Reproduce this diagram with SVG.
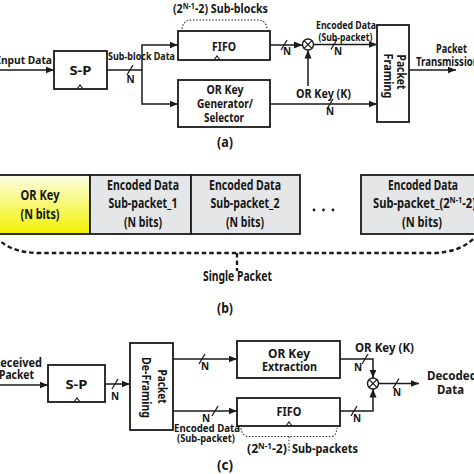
<svg xmlns="http://www.w3.org/2000/svg" width="474" height="474" viewBox="0 0 474 474">
<defs>
<marker id="ah" markerUnits="userSpaceOnUse" markerWidth="9" markerHeight="8" refX="8.5" refY="4" orient="auto"><path d="M0,0.5 L8.5,4 L0,7.5 z" fill="#1a1a1a"/></marker>
<linearGradient id="yel" x1="0" y1="0" x2="0" y2="1"><stop offset="0" stop-color="#fdfde6"/><stop offset="1" stop-color="#f2f200"/></linearGradient>
<style>
.t{font-family:"Noto Sans","DejaVu Sans",sans-serif;font-weight:700;fill:#161616}
.s11{font-size:11px}.s12{font-size:12px}.s13{font-size:13.5px}.sn{font-size:10px}
.m{text-anchor:middle}
.box{fill:#fff;stroke:#1a1a1a;stroke-width:1.8}
.pk{stroke:#1a1a1a;stroke-width:1.8}
.ln{fill:none;stroke:#1a1a1a;stroke-width:1.5}
.ar{fill:none;stroke:#1a1a1a;stroke-width:1.5;marker-end:url(#ah)}
.sl{stroke:#1a1a1a;stroke-width:1.3}
.dot{fill:none;stroke:#333;stroke-width:1.1;stroke-dasharray:1.6 1.6}
.dsh{fill:none;stroke:#1a1a1a;stroke-width:2.4;stroke-dasharray:4.5 3}
.clk{fill:none;stroke:#1a1a1a;stroke-width:1.1}
</style>
</defs>
<rect width="474" height="474" fill="#fff"/>

<!-- ===== (a) ===== -->
<g id="a-sp"><rect class="box" x="54" y="51" width="53" height="38"/><text class="t s12 m" x="80.5" y="75" textLength="22" lengthAdjust="spacingAndGlyphs">S-P</text><polyline class="clk" points="77,89 80,85 83,89"/></g>
<g id="a-fifo"><rect class="box" x="178" y="31" width="92" height="29"/><text class="t s12 m" x="224" y="50.5" textLength="24" lengthAdjust="spacingAndGlyphs">FIFO</text><polyline class="clk" points="214,60 217,56 220,60"/>
<path class="dot" d="M182,29 Q183,20 192,20 L258,20 Q266,20 267,29"/>
<text class="t s12" x="173" y="13" textLength="95" lengthAdjust="spacingAndGlyphs">(2<tspan font-size="8" dy="-4">N-1</tspan><tspan dy="4">-2) Sub-blocks</tspan></text></g>
<g id="a-keygen"><rect class="box" x="178" y="80" width="92" height="47"/><text class="t s12 m" x="225" y="94" textLength="37" lengthAdjust="spacingAndGlyphs">OR Key</text><text class="t s12 m" x="225" y="108" textLength="56" lengthAdjust="spacingAndGlyphs">Generator/</text><text class="t s12 m" x="224" y="122" textLength="40" lengthAdjust="spacingAndGlyphs">Selector</text></g>
<g id="a-xor"><circle cx="308" cy="44.5" r="5.5" fill="#fff" stroke="#1a1a1a" stroke-width="1.4"/><path class="sl" d="M304.1,40.6 L311.9,48.4 M311.9,40.6 L304.1,48.4"/></g>
<g id="a-framing"><rect class="box" x="377" y="25" width="32" height="97"/><g transform="translate(393,74) rotate(90)"><text class="t s12 m" x="-2" y="-3.5" textLength="35" lengthAdjust="spacingAndGlyphs">Packet</text><text class="t s12 m" x="2" y="9" textLength="45" lengthAdjust="spacingAndGlyphs">Framing</text></g></g>

<g id="a-connectors">
<line class="ar" x1="0" y1="70" x2="54" y2="70"/>
<polyline class="ln" points="107,70 142,70"/>
<polyline class="ar" points="142,70 142,45 178,45"/>
<polyline class="ar" points="142,70 142,104 178,104"/>
<line class="ar" x1="270" y1="45" x2="302.5" y2="45"/>
<line class="ar" x1="313.5" y1="44.5" x2="377" y2="44.5"/>
<line class="ar" x1="308" y1="86" x2="308" y2="50"/>
<line class="ar" x1="270" y1="104" x2="377" y2="104"/>
<line class="ar" x1="409" y1="70" x2="456" y2="70"/>
<line class="sl" x1="127" y1="75" x2="133" y2="65"/>
<line class="sl" x1="281" y1="50" x2="287" y2="40"/>
<line class="sl" x1="331" y1="49.5" x2="337" y2="39.5"/>
<line class="sl" x1="327" y1="109" x2="333" y2="99"/>
</g>
<g id="a-labels">
<text class="t s11" x="-3" y="63.5" textLength="55" lengthAdjust="spacingAndGlyphs">Input Data</text>
<text class="t s11" x="108" y="60" textLength="67" lengthAdjust="spacingAndGlyphs">Sub-block Data</text>
<text class="t sn m" x="130.5" y="82.5">N</text>
<text class="t sn m" x="287" y="55">N</text>
<text class="t sn m" x="338" y="55">N</text>
<text class="t sn m" x="330" y="115">N</text>
<text class="t s11" x="316" y="29" textLength="60" lengthAdjust="spacingAndGlyphs">Encoded Data</text>
<text class="t s11" x="318.5" y="40.5" textLength="54" lengthAdjust="spacingAndGlyphs">(Sub-packet)</text>
<text class="t s12" x="296" y="97.5" textLength="55" lengthAdjust="spacingAndGlyphs">OR Key (K)</text>
<text class="t s12" x="436" y="52.5" textLength="31" lengthAdjust="spacingAndGlyphs">Packet</text>
<text class="t s12" x="416" y="66" textLength="63" lengthAdjust="spacingAndGlyphs">Transmission</text>
<text class="t s13 m" x="225" y="147" textLength="16" lengthAdjust="spacingAndGlyphs">(a)</text>
</g>

<!-- ===== (b) ===== -->
<g id="b-orkey"><rect x="-10" y="175" width="100" height="59" fill="url(#yel)" class="pk"/><text class="t s13 m" x="40" y="200" textLength="39" lengthAdjust="spacingAndGlyphs">OR Key</text><text class="t s13 m" x="40" y="218.5" textLength="39" lengthAdjust="spacingAndGlyphs">(N bits)</text></g>
<g id="b-sub1"><rect x="90" y="175" width="101" height="59" fill="#e4e6e8" class="pk"/><text class="t s13 m" x="143" y="190" textLength="72" lengthAdjust="spacingAndGlyphs">Encoded Data</text><text class="t s13 m" x="143" y="208" textLength="69" lengthAdjust="spacingAndGlyphs">Sub-packet_1</text><text class="t s13 m" x="143" y="226.5" textLength="38" lengthAdjust="spacingAndGlyphs">(N bits)</text></g>
<g id="b-sub2"><rect x="191" y="175" width="109" height="59" fill="#e4e6e8" class="pk"/><text class="t s13 m" x="245" y="190" textLength="72" lengthAdjust="spacingAndGlyphs">Encoded Data</text><text class="t s13 m" x="245" y="208" textLength="69" lengthAdjust="spacingAndGlyphs">Sub-packet_2</text><text class="t s13 m" x="245" y="226.5" textLength="38" lengthAdjust="spacingAndGlyphs">(N bits)</text></g>
<g id="b-dots" fill="#1a1a1a"><circle cx="314" cy="210" r="1.4"/><circle cx="323.5" cy="210" r="1.4"/><circle cx="333" cy="210" r="1.4"/></g>
<g id="b-subn"><rect x="361" y="175" width="124" height="59" fill="#e4e6e8" class="pk"/><text class="t s13 m" x="423" y="190" textLength="70" lengthAdjust="spacingAndGlyphs">Encoded Data</text><text class="t s13" x="373" y="208" textLength="103" lengthAdjust="spacingAndGlyphs">Sub-packet_(2<tspan font-size="9" dy="-5">N-1</tspan><tspan dy="5">-2)</tspan></text><text class="t s13 m" x="422" y="226.5" textLength="40" lengthAdjust="spacingAndGlyphs">(N bits)</text></g>
<g id="b-bracket">
<path class="dsh" d="M-4,237 Q10,253 40,253 L432,253 Q462,253 478,234"/>
<line class="dsh" x1="237" y1="253" x2="237" y2="271"/>
<text class="t s13 m" x="237.5" y="281" textLength="69" lengthAdjust="spacingAndGlyphs">Single Packet</text>
<text class="t s13 m" x="225" y="313" textLength="16" lengthAdjust="spacingAndGlyphs">(b)</text>
</g>

<!-- ===== (c) ===== -->
<g id="c-sp"><rect class="box" x="48" y="365" width="57" height="37"/><text class="t s12 m" x="76.5" y="389" textLength="22" lengthAdjust="spacingAndGlyphs">S-P</text><polyline class="clk" points="74,402 77,398 80,402"/></g>
<g id="c-deframing"><rect class="box" x="130" y="343" width="43" height="87"/><g transform="translate(151.5,387) rotate(90)"><text class="t s12 m" x="-0.5" y="-6" textLength="34" lengthAdjust="spacingAndGlyphs">Packet</text><text class="t s12 m" x="0.5" y="9.5" textLength="61" lengthAdjust="spacingAndGlyphs">De-Framing</text></g></g>
<g id="c-keyext"><rect class="box" x="237" y="341" width="103" height="37"/><text class="t s12 m" x="289" y="358" textLength="42" lengthAdjust="spacingAndGlyphs">OR Key</text><text class="t s12 m" x="289.5" y="371" textLength="55" lengthAdjust="spacingAndGlyphs">Extraction</text></g>
<g id="c-fifo"><rect class="box" x="237" y="398" width="103" height="28"/><text class="t s12 m" x="289" y="415.5" textLength="25" lengthAdjust="spacingAndGlyphs">FIFO</text><polyline class="clk" points="286,426 289,422 292,426"/>
<path class="dot" d="M241,428 Q242,436.5 249,436.5 L331,436.5 Q336,436.5 337,428"/>
<line class="dot" x1="289" y1="436.5" x2="289" y2="452"/>
<text class="t s12" x="247" y="453" textLength="40" lengthAdjust="spacingAndGlyphs">(2<tspan font-size="8" dy="-4">N-1</tspan><tspan dy="4">-2)</tspan></text>
<text class="t s12" x="292" y="453" textLength="66" lengthAdjust="spacingAndGlyphs">Sub-packets</text></g>
<g id="c-xor"><circle cx="373" cy="383.5" r="5.5" fill="#fff" stroke="#1a1a1a" stroke-width="1.4"/><path class="sl" d="M369.1,379.6 L376.9,387.4 M376.9,379.6 L369.1,387.4"/></g>

<g id="c-connectors">
<line class="ar" x1="0" y1="385" x2="48" y2="385"/>
<line class="ar" x1="105" y1="384" x2="130" y2="384"/>
<line class="ar" x1="173" y1="359" x2="237" y2="359"/>
<line class="ar" x1="173" y1="411" x2="237" y2="411"/>
<polyline class="ar" points="340,359 373,359 373,378"/>
<polyline class="ar" points="340,411 373,411 373,389"/>
<line class="ar" x1="378.5" y1="383.5" x2="419" y2="383.5"/>
<line class="sl" x1="112" y1="389" x2="118" y2="379"/>
<line class="sl" x1="199" y1="364" x2="205" y2="354"/>
<line class="sl" x1="212" y1="416" x2="218" y2="406"/>
<line class="sl" x1="362" y1="364" x2="368" y2="354"/>
<line class="sl" x1="351" y1="416" x2="357" y2="406"/>
<line class="sl" x1="393" y1="388.5" x2="399" y2="378.5"/>
</g>
<g id="c-labels">
<text class="t s12 m" x="17.5" y="366.5" textLength="49" lengthAdjust="spacingAndGlyphs">Received</text>
<text class="t s12 m" x="16.5" y="379" textLength="35" lengthAdjust="spacingAndGlyphs">Packet</text>
<text class="t sn m" x="115" y="400">N</text>
<text class="t sn m" x="205" y="370">N</text>
<text class="t sn m" x="206" y="422">N</text>
<text class="t sn m" x="358" y="371">N</text>
<text class="t sn m" x="357" y="422">N</text>
<text class="t sn m" x="397" y="395.5">N</text>
<text class="t s11" x="174" y="431.5" textLength="66" lengthAdjust="spacingAndGlyphs">Encoded Data</text>
<text class="t s11" x="177" y="441.5" textLength="58" lengthAdjust="spacingAndGlyphs">(Sub-packet)</text>
<text class="t s12" x="355" y="351.5" textLength="59" lengthAdjust="spacingAndGlyphs">OR Key (K)</text>
<text class="t s12" x="427" y="380" textLength="50" lengthAdjust="spacingAndGlyphs">Decoded</text>
<text class="t s12 m" x="450.5" y="393.5" textLength="27" lengthAdjust="spacingAndGlyphs">Data</text>
<text class="t s13 m" x="225" y="470" textLength="16" lengthAdjust="spacingAndGlyphs">(c)</text>
</g>
</svg>
